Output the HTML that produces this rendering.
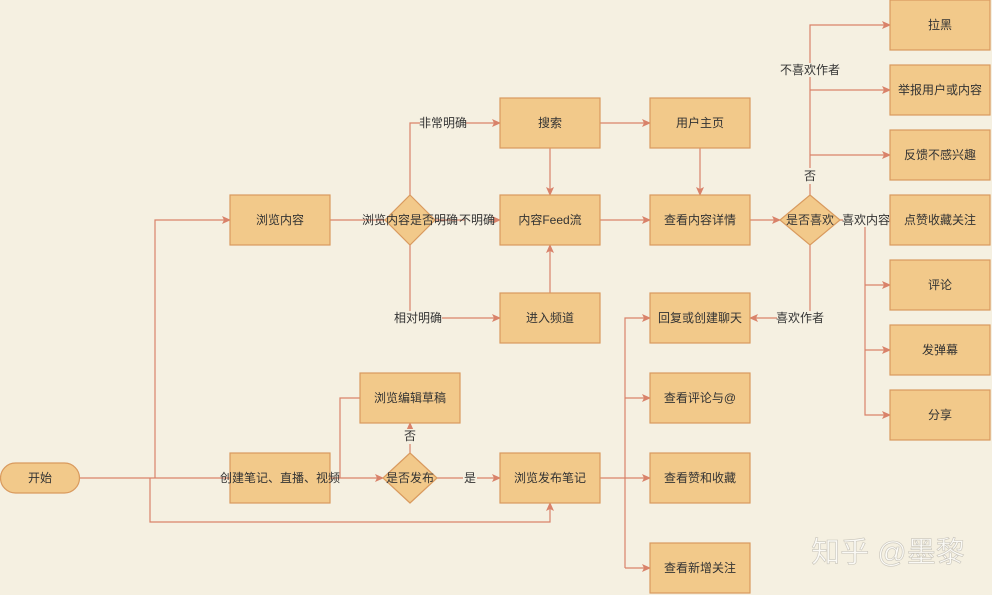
<!DOCTYPE html>
<html><head><meta charset="utf-8"><style>
html,body{margin:0;padding:0;background:#f5f0e1;}
svg{display:block;}
text{font-family:"Liberation Sans","Noto Sans CJK SC",sans-serif;font-size:12px;fill:#333;}
</style></head><body>
<svg width="992" height="595" viewBox="0 0 992 595" xmlns="http://www.w3.org/2000/svg">
<defs>
<marker id="a" markerWidth="10" markerHeight="10" refX="8" refY="5" orient="auto" markerUnits="userSpaceOnUse">
<path d="M0,1 L9,5 L0,9 L2,5 z" fill="#d9826a"/></marker>
</defs>
<rect width="992" height="595" fill="#f5f0e1"/>
<g fill="none" stroke="#d9826a" stroke-width="1.2">
<!-- start trunk -->
<path d="M80,478 H230"/>
<path d="M155,478 V220 H230" marker-end="url(#a)"/>
<path d="M150,478 V522 H550 V503" marker-end="url(#a)"/>
<!-- browse -->
<path d="M330,220 H385"/>
<path d="M435,220 H500" marker-end="url(#a)"/>
<path d="M410,195 V123 H500" marker-end="url(#a)"/>
<path d="M410,245 V318 H500" marker-end="url(#a)"/>
<path d="M600,123 H650" marker-end="url(#a)"/>
<path d="M550,148 V195" marker-end="url(#a)"/>
<path d="M550,293 V245" marker-end="url(#a)"/>
<path d="M700,148 V195" marker-end="url(#a)"/>
<path d="M600,220 H650" marker-end="url(#a)"/>
<path d="M750,220 H780" marker-end="url(#a)"/>
<!-- dislike -->
<path d="M810,195 V25 H890" marker-end="url(#a)"/>
<path d="M810,90 H890" marker-end="url(#a)"/>
<path d="M810,155 H890" marker-end="url(#a)"/>
<!-- like content -->
<path d="M840,220 H890" marker-end="url(#a)"/>
<path d="M865,220 V415 H890" marker-end="url(#a)"/>
<path d="M865,285 H890" marker-end="url(#a)"/>
<path d="M865,350 H890" marker-end="url(#a)"/>
<!-- like author -->
<path d="M810,245 V318 H750" marker-end="url(#a)"/>
<!-- create -->
<path d="M330,478 H383" marker-end="url(#a)"/>
<path d="M340,478 V398 H360"/>
<path d="M410,453 V423" marker-end="url(#a)"/>
<path d="M437,478 H500" marker-end="url(#a)"/>
<path d="M600,478 H625"/>
<path d="M625,478 H650" marker-end="url(#a)"/>
<path d="M625,568 V318 H650" marker-end="url(#a)"/>
<path d="M625,398 H650" marker-end="url(#a)"/>
<path d="M625,568 H650" marker-end="url(#a)"/>
</g>
<g fill="#f2c98a" stroke="#d99a5e" stroke-width="1.2">
<rect x="0.5" y="463" width="79" height="30" rx="15"/>
<rect x="230" y="195" width="100" height="50"/>
<rect x="500" y="98" width="100" height="50"/>
<rect x="500" y="195" width="100" height="50"/>
<rect x="500" y="293" width="100" height="50"/>
<rect x="650" y="98" width="100" height="50"/>
<rect x="650" y="195" width="100" height="50"/>
<rect x="650" y="293" width="100" height="50"/>
<rect x="650" y="373" width="100" height="50"/>
<rect x="650" y="453" width="100" height="50"/>
<rect x="650" y="543" width="100" height="50"/>
<rect x="890" y="0" width="100" height="50"/>
<rect x="890" y="65" width="100" height="50"/>
<rect x="890" y="130" width="100" height="50"/>
<rect x="890" y="195" width="100" height="50"/>
<rect x="890" y="260" width="100" height="50"/>
<rect x="890" y="325" width="100" height="50"/>
<rect x="890" y="390" width="100" height="50"/>
<rect x="230" y="453" width="100" height="50"/>
<rect x="360" y="373" width="100" height="50"/>
<rect x="500" y="453" width="100" height="50"/>
<path d="M410,195 L435,220 L410,245 L385,220 Z"/>
<path d="M810,195 L840,220 L810,245 L780,220 Z"/>
<path d="M410,453 L437,478 L410,503 L383,478 Z"/>
</g>
<g text-anchor="middle" dominant-baseline="central">
<text x="40" y="478">开始</text>
<text x="280" y="220">浏览内容</text>
<text x="550" y="123">搜索</text>
<text x="550" y="220">内容Feed流</text>
<text x="550" y="318">进入频道</text>
<text x="700" y="123">用户主页</text>
<text x="700" y="220">查看内容详情</text>
<text x="700" y="318">回复或创建聊天</text>
<text x="700" y="398">查看评论与@</text>
<text x="700" y="478">查看赞和收藏</text>
<text x="700" y="568">查看新增关注</text>
<text x="940" y="25">拉黑</text>
<text x="940" y="90">举报用户或内容</text>
<text x="940" y="155">反馈不感兴趣</text>
<text x="940" y="220">点赞收藏关注</text>
<text x="940" y="285">评论</text>
<text x="940" y="350">发弹幕</text>
<text x="940" y="415">分享</text>
<text x="280" y="478">创建笔记、直播、视频</text>
<text x="410" y="398">浏览编辑草稿</text>
<text x="550" y="478">浏览发布笔记</text>
<text x="410" y="220">浏览内容是否明确</text>
<text x="810" y="220">是否喜欢</text>
<text x="410" y="478">是否发布</text>
</g>
<g text-anchor="middle" dominant-baseline="central">
<rect x="420" y="116" width="46" height="14" fill="#f5f0e1"/>
<text x="443" y="123">非常明确</text>
<rect x="465" y="213" width="24" height="14" fill="#f5f0e1"/>
<text x="477" y="220">不明确</text>
<rect x="396" y="311" width="46" height="14" fill="#f5f0e1"/>
<text x="418" y="318">相对明确</text>
<rect x="782" y="63" width="56" height="14" fill="#f5f0e1"/>
<text x="810" y="70">不喜欢作者</text>
<rect x="803" y="168" width="14" height="16" fill="#f5f0e1"/>
<text x="810" y="176">否</text>
<rect x="843" y="213" width="46" height="14" fill="#f5f0e1"/>
<text x="866" y="220">喜欢内容</text>
<rect x="777" y="311" width="46" height="14" fill="#f5f0e1"/>
<text x="800" y="318">喜欢作者</text>
<rect x="403" y="429" width="14" height="15" fill="#f5f0e1"/>
<text x="410" y="436">否</text>
<rect x="463" y="471" width="14" height="14" fill="#f5f0e1"/>
<text x="470" y="478">是</text>
</g>
<text x="888" y="553" text-anchor="middle" dominant-baseline="central" style="font-size:29px;fill:#fbfaf6;stroke:#c8c4ba;stroke-width:0.6px;">知乎 @墨黎</text>
</svg>
</body></html>
